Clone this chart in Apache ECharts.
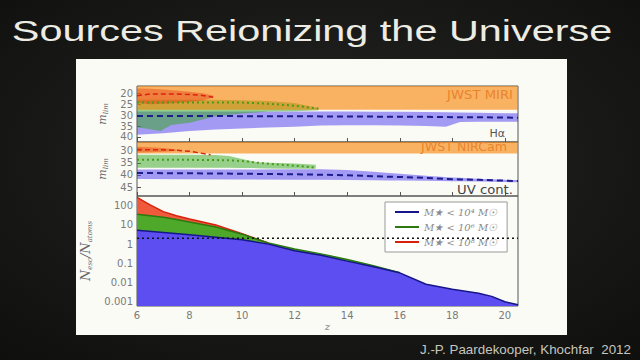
<!DOCTYPE html>
<html><head><meta charset="utf-8">
<script src="https://cdn.jsdelivr.net/npm/echarts@6/dist/echarts.min.js"></script>
<style>html,body{margin:0;padding:0;background:#1b1b19;}#c{width:640px;height:360px;}</style>
</head><body><div id="c"></div>
<script>
// ---------------- data ----------------
const titleText = 'Sources Reionizing the Universe';
const creditText = 'J.-P. Paardekooper, Khochfar  2012';
const zRange = [6, 20.5];
const zTicks = [6, 8, 10, 12, 14, 16, 18, 20];

// Panel 1: H-alpha limiting magnitude
const haTicks = [20, 25, 30, 35, 40];
const haRange = [16.7, 42.3];
const miriLimit = 27.5;
const haBlueZ = [6, 7, 8, 9, 10, 11, 12, 13, 14, 15, 16, 17, 17.75, 18.3, 19, 20, 20.5];
const haBlueTop = [28.4, 28.4, 28.4, 28.4, 28.4, 28.4, 28.4, 28.4, 28.4, 28.5, 28.5, 28.6, 28.7, 28.8, 28.9, 29.1, 29.2];
const haBlueBottom = [39.0, 38.3, 37.3, 36.6, 36.1, 35.7, 35.3, 34.8, 34.6, 34.6, 34.8, 35.0, 35.3, 33.2, 33.0, 33.0, 33.0];
const haBlueMid = [30.4, 30.4, 30.4, 30.4, 30.5, 30.5, 30.5, 30.6, 30.6, 30.7, 30.7, 30.8, 30.9, 31.0, 31.0, 31.1, 31.2];
const haGreenZ = [6, 6.5, 6.9, 7.3, 8, 9, 10, 11, 12, 12.9];
const haGreenTop = [23.0, 23.0, 23.0, 23.0, 23.0, 23.0, 23.2, 23.6, 24.5, 26.8];
const haGreenBottom = [35.5, 36.5, 37.3, 34.5, 33.5, 30.5, 29.3, 28.4, 28.2, 27.8];
const haGreenMid = [24.3, 24.2, 24.2, 24.2, 24.2, 24.2, 24.3, 24.8, 25.7, 27.0];
const haRedZ = [6, 6.5, 7, 7.5, 8, 8.5, 8.9];
const haRedTop = [17.8, 17.9, 18.3, 18.8, 19.3, 20.0, 21.0];
const haRedBottom = [24.5, 25.0, 24.8, 24.5, 24.0, 23.3, 22.0];
const haRedMid = [21.2, 20.3, 20.3, 20.4, 20.6, 21.0, 21.8];

// Panel 2: UV continuum limiting magnitude
const uvTicks = [30, 35, 40, 45];
const uvRange = [26.5, 48.6];
const nircamLimit = 31.2;
const uvBlueZ = [6, 8, 10, 12, 13, 14, 15, 15.6, 16, 17, 18, 18.3, 19, 20, 20.5];
const uvBlueTop = [37.8, 37.8, 37.8, 37.7, 37.7, 38.0, 38.7, 39.2, 39.5, 40.3, 41.0, 41.1, 41.5, 42.0, 42.1];
const uvBlueMid = [39.2, 39.3, 39.5, 39.7, 39.9, 40.1, 40.5, 40.7, 40.8, 41.2, 41.7, 41.8, 42.0, 42.3, 42.5];
const uvBlueBottom = [41.6, 41.7, 41.8, 41.9, 42.0, 42.1, 42.2, 42.3, 42.3, 42.4, 42.6, 42.6, 42.7, 42.9, 43.0];
const uvGreenZ = [6, 8, 9, 9.5, 10, 10.6, 11, 12, 12.8];
const uvGreenTop = [31.7, 31.7, 31.8, 32.2, 33.5, 34.8, 35.0, 35.3, 35.8];
const uvGreenBottom = [37.0, 37.0, 37.0, 37.0, 37.1, 37.2, 37.3, 37.4, 37.4];
const uvGreenMid = [33.8, 33.8, 33.9, 34.0, 34.3, 35.0, 35.4, 36.2, 37.0];
const uvRedZ = [6, 6.5, 7, 7.5];
const uvRedTop = [28.4, 28.6, 29.0, 29.6];
const uvRedBottom = [30.8, 30.7, 30.5, 30.2];
const uvRedLineZ = [6, 7, 7.5, 8, 8.8];
const uvRedLine = [29.6, 29.7, 29.9, 30.3, 31.7];

// Panel 3: N_esc / N_atoms
const escTicks = [0.001, 0.01, 0.1, 1, 10, 100];
const escRange = [0.0006, 320];
const escThreshold = 2;
const escNames = ['M★ < 10⁴ M☉', 'M★ < 10⁶ M☉', 'M★ < 10⁸ M☉'];
const escBlueZ = [6, 7, 8, 9, 10, 11, 12, 13, 14, 15, 16, 17, 18, 19, 19.5, 20, 20.5];
const escBlue = [5.2, 4.0, 3.1, 2.3, 1.7, 1.0, 0.45, 0.26, 0.13, 0.066, 0.032, 0.0081, 0.0045, 0.0028, 0.0019, 0.001, 0.0007];
const escGreenZ = [6, 6.5, 7, 7.5, 8, 9, 10, 10.5, 11, 12, 13, 14, 15, 16];
const escGreen = [36, 30, 25, 19, 14, 7.7, 3.3, 1.9, 1.15, 0.56, 0.31, 0.16, 0.075, 0.032];
const escRedZ = [6, 6.5, 7, 7.5, 8, 9, 10, 10.5, 11];
const escRed = [270, 110, 49, 30, 20.5, 10, 3.5, 2.0, 1.15];

// ---------------- chart ----------------
const pairs = (zs, vs) => zs.map((z, i) => [z, vs[i]]);
const GL = 137, GW = 381;
const grids = [
  {left: GL, top: 86, width: GW, height: 56},
  {left: GL, top: 142, width: GW, height: 54},
  {left: GL, top: 196, width: GW, height: 110}
].map(g => Object.assign(g, {show: true, borderColor: '#555', borderWidth: 1, backgroundColor: 'transparent'}));

const labelStyle = {color: '#7a7a7a', fontSize: 10, fontFamily: 'DejaVu Sans'};
function xAxis(i) {
  return {type: 'value', gridIndex: i, min: zRange[0], max: zRange[1],
    axisLine: {show: false}, splitLine: {show: false},
    axisTick: {show: true, inside: true, length: 4, lineStyle: {color: '#555'}, customValues: zTicks},
    axisLabel: Object.assign({show: i === 2, margin: 4, customValues: zTicks}, labelStyle),
    name: i === 2 ? 'z' : '', nameLocation: 'middle', nameGap: 15,
    nameTextStyle: {fontFamily: 'DejaVu Serif', fontStyle: 'italic', color: '#777', fontSize: 10}};
}
const nameRich = {
  m: {fontFamily: 'DejaVu Serif', fontStyle: 'italic', fontSize: 11, color: '#666'},
  s: {fontFamily: 'DejaVu Serif', fontStyle: 'italic', fontSize: 7, color: '#666', padding: [6, 0, 0, 0]}
};
function yAxisLin(i, range, ticks) {
  return {type: 'value', gridIndex: i, inverse: true, min: range[0], max: range[1],
    axisLine: {show: false}, splitLine: {show: false},
    axisTick: {show: true, inside: true, length: 4, lineStyle: {color: '#555'}, customValues: ticks},
    axisLabel: Object.assign({margin: 4, customValues: ticks}, labelStyle),
    name: '{m|m}{s|lim}', nameLocation: 'middle', nameGap: 22, nameRotate: 90,
    nameTextStyle: {rich: nameRich}};
}
const yAxes = [
  yAxisLin(0, haRange, haTicks),
  yAxisLin(1, uvRange, uvTicks),
  {type: 'log', logBase: 10, gridIndex: 2, min: escRange[0], max: escRange[1],
    axisLine: {show: false}, splitLine: {show: false}, minorSplitLine: {show: false},
    axisTick: {show: true, inside: true, length: 4, lineStyle: {color: '#555'}, customValues: escTicks},
    axisLabel: Object.assign({margin: 4, customValues: escTicks, formatter: v => String(+(+v).toPrecision(3))}, labelStyle),
    name: '{n|N}{s|esc}{n|/N}{s|atoms}', nameLocation: 'middle', nameGap: 37, nameRotate: 90,
    nameTextStyle: {rich: {
      n: {fontFamily: 'DejaVu Serif', fontStyle: 'italic', fontSize: 13, color: '#666'},
      s: {fontFamily: 'DejaVu Serif', fontStyle: 'italic', fontSize: 7, color: '#666', padding: [8, 0, 0, 0]}
    }}}
];

const series = [];
// filled band between two curves, drawn as one polygon through the axis scales
function band(ax, zs, top, bottom, color) {
  series.push({type: 'custom', xAxisIndex: ax, yAxisIndex: ax, silent: true, clip: true, z: 2,
    data: zs.map((z, i) => [z, top[i], bottom[i]]),
    encode: {x: 0, y: [1, 2]},
    renderItem: (params, api) => {
      if (params.dataIndex !== 0) return null;
      const pts = [];
      for (let i = 0; i < zs.length; i++) pts.push(api.coord([zs[i], top[i]]));
      for (let i = zs.length - 1; i >= 0; i--) pts.push(api.coord([zs[i], bottom[i]]));
      return {type: 'polygon', shape: {points: pts}, style: {fill: color}};
    }});
}
function limitBand(ax, value, color) {
  series.push({type: 'line', xAxisIndex: ax, yAxisIndex: ax, data: pairs(zRange, [value, value]), z: 2,
    symbol: 'none', silent: true, lineStyle: {opacity: 0}, areaStyle: {color: color, opacity: 1, origin: 'start'}});
}
function curve(ax, zs, vs, color, width, type) {
  series.push({type: 'line', xAxisIndex: ax, yAxisIndex: ax, data: pairs(zs, vs), symbol: 'none', silent: true,
    z: 4, lineStyle: {color: color, width: width, type: type}});
}
const PURPLE = 'rgba(75,60,240,0.5)', GREEN = 'rgba(50,165,30,0.5)', ORANGE = 'rgba(247,130,0,0.6)', RED = 'rgba(228,55,10,0.42)';
const DBLUE = '#1c1c8a', DGREEN = '#4a9a1c', DRED = '#d82410';
// panel 1
band(0, haBlueZ, haBlueTop, haBlueBottom, PURPLE);
band(0, haGreenZ, haGreenTop, haGreenBottom, GREEN);
limitBand(0, miriLimit, ORANGE);
band(0, haRedZ, haRedTop, haRedBottom, RED);
curve(0, haRedZ, haRedMid, DRED, 1.5, [5, 3]);
curve(0, haGreenZ, haGreenMid, DGREEN, 2, [2, 3]);
curve(0, haBlueZ, haBlueMid, DBLUE, 2, [6, 4]);
// panel 2
band(1, uvBlueZ, uvBlueTop, uvBlueBottom, PURPLE);
band(1, uvGreenZ, uvGreenTop, uvGreenBottom, GREEN);
limitBand(1, nircamLimit, ORANGE);
band(1, uvRedZ, uvRedTop, uvRedBottom, RED);
curve(1, uvRedLineZ, uvRedLine, DRED, 1.5, [5, 3]);
curve(1, uvGreenZ, uvGreenMid, DGREEN, 2, [2, 3]);
curve(1, uvBlueZ, uvBlueMid, DBLUE, 2, [6, 4]);
// panel 3
const escSets = [[escRedZ, escRed, '#f05a3c', '#d8200c', escNames[2]],
                 [escGreenZ, escGreen, '#4ea82a', '#2a7a10', escNames[1]],
                 [escBlueZ, escBlue, '#5c4ef0', '#16168a', escNames[0]]];
escSets.forEach(([zs, vs, fill, stroke, name]) => {
  series.push({name: name, type: 'line', xAxisIndex: 2, yAxisIndex: 2, data: pairs(zs, vs), symbol: 'none',
    itemStyle: {color: stroke}, lineStyle: {color: stroke, width: 1.5},
    areaStyle: {color: fill, opacity: 1, origin: 'start'}});
});
series.push({type: 'line', xAxisIndex: 2, yAxisIndex: 2, data: pairs(zRange, [escThreshold, escThreshold]),
  symbol: 'none', silent: true, z: 5, lineStyle: {color: '#111', width: 1.5, type: [2, 3]}});

const txt = (text, x, y, font, fill, align, sx) => ({type: 'text', x: x, y: y, z: 100, silent: true, scaleX: sx || 1,
  style: {text: text, font: font, fill: fill, align: align || 'right', verticalAlign: 'middle'}});

const chart = echarts.init(document.getElementById('c'), null, {renderer: 'svg'});
chart.setOption({
  animation: false,
  backgroundColor: {type: 'radial', x: 0.5, y: 0.45, r: 0.8,
    colorStops: [{offset: 0, color: '#262624'}, {offset: 1, color: '#0d0d0c'}]},
  grid: grids,
  xAxis: [xAxis(0), xAxis(1), xAxis(2)],
  yAxis: yAxes,
  legend: {data: escNames, orient: 'vertical', left: 385, top: 202, icon: 'rect', itemWidth: 24, itemHeight: 2,
    itemGap: 5, padding: [5, 10, 5, 10], borderColor: '#999', borderWidth: 1, backgroundColor: '#fff',
    textStyle: {fontFamily: 'DejaVu Serif', fontStyle: 'italic', color: '#8a8a8a', fontSize: 10}},
  graphic: [
    {type: 'rect', z: -10, silent: true, shape: {x: 76, y: 59, width: 491, height: 276}, style: {fill: '#fbfbf6'}},
    txt(titleText, 312, 31, 'normal 30px "Liberation Sans"', '#ececE4', 'center', 1.38),
    txt(creditText, 631, 350, 'normal 13px "Liberation Sans"', '#c6c6be', 'right', 1.03),
    txt('JWST MIRI', 513, 95, 'normal 12px "DejaVu Sans"', '#ea842c', 'right', 1.1),
    txt('Hα', 505, 133, 'normal 11px "DejaVu Sans"', '#555'),
    txt('JWST NIRCam', 507, 147, 'normal 12px "DejaVu Sans"', '#ea842c', 'right', 1.05),
    txt('UV cont.', 513, 190, 'normal 12px "DejaVu Sans"', '#444', 'right', 1.1)
  ],
  series: series
});
</script></body></html>
